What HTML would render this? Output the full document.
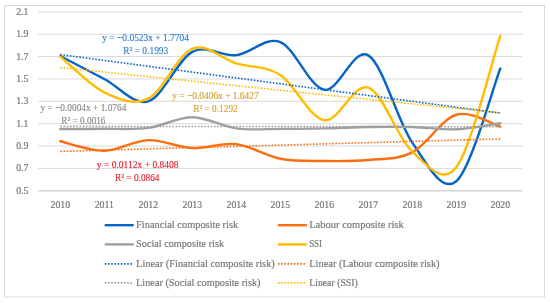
<!DOCTYPE html>
<html><head><meta charset="utf-8"><style>
html,body{margin:0;padding:0;background:#fff;}
body{width:550px;height:303px;overflow:hidden;}
svg{display:block;will-change:transform;}
text{opacity:0.999;}
text{font-family:"Liberation Serif", serif;}
.ax{font-size:9.8px;fill:#777777;stroke:#777777;stroke-width:0.2px;}
.tl{font-size:11px;}
.lg{font-size:10.6px;fill:#777777;stroke:#777777;stroke-width:0.2px;}
</style></head><body>
<svg width="550" height="303" viewBox="0 0 550 303">
<rect x="4.5" y="5.5" width="540" height="291.5" fill="#fff" stroke="#D9D9D9" stroke-width="1"/>
<line x1="38.30" y1="168.39" x2="522.30" y2="168.39" stroke="#D9D9D9" stroke-width="1"/>
<line x1="38.30" y1="146.03" x2="522.30" y2="146.03" stroke="#D9D9D9" stroke-width="1"/>
<line x1="38.30" y1="123.67" x2="522.30" y2="123.67" stroke="#D9D9D9" stroke-width="1"/>
<line x1="38.30" y1="101.31" x2="522.30" y2="101.31" stroke="#D9D9D9" stroke-width="1"/>
<line x1="38.30" y1="78.95" x2="522.30" y2="78.95" stroke="#D9D9D9" stroke-width="1"/>
<line x1="38.30" y1="56.59" x2="522.30" y2="56.59" stroke="#D9D9D9" stroke-width="1"/>
<line x1="38.30" y1="34.23" x2="522.30" y2="34.23" stroke="#D9D9D9" stroke-width="1"/>
<line x1="38.30" y1="11.87" x2="522.30" y2="11.87" stroke="#D9D9D9" stroke-width="1"/>
<line x1="38.30" y1="190.75" x2="522.30" y2="190.75" stroke="#D6D6D6" stroke-width="1.5"/>
<text x="28.4" y="193.85" text-anchor="end" class="ax">0.5</text>
<text x="28.4" y="171.49" text-anchor="end" class="ax">0.7</text>
<text x="28.4" y="149.13" text-anchor="end" class="ax">0.9</text>
<text x="28.4" y="126.77" text-anchor="end" class="ax">1.1</text>
<text x="28.4" y="104.41" text-anchor="end" class="ax">1.3</text>
<text x="28.4" y="82.05" text-anchor="end" class="ax">1.5</text>
<text x="28.4" y="59.69" text-anchor="end" class="ax">1.7</text>
<text x="28.4" y="37.33" text-anchor="end" class="ax">1.9</text>
<text x="28.4" y="14.97" text-anchor="end" class="ax">2.1</text>
<text x="60.30" y="207.8" text-anchor="middle" class="ax">2010</text>
<text x="104.30" y="207.8" text-anchor="middle" class="ax">2011</text>
<text x="148.30" y="207.8" text-anchor="middle" class="ax">2012</text>
<text x="192.30" y="207.8" text-anchor="middle" class="ax">2013</text>
<text x="236.30" y="207.8" text-anchor="middle" class="ax">2014</text>
<text x="280.30" y="207.8" text-anchor="middle" class="ax">2015</text>
<text x="324.30" y="207.8" text-anchor="middle" class="ax">2016</text>
<text x="368.30" y="207.8" text-anchor="middle" class="ax">2017</text>
<text x="412.30" y="207.8" text-anchor="middle" class="ax">2018</text>
<text x="456.30" y="207.8" text-anchor="middle" class="ax">2019</text>
<text x="500.30" y="207.8" text-anchor="middle" class="ax">2020</text>
<path d="M60.30,56.03 C67.63,59.85 89.63,71.40 104.30,78.95 C118.97,86.50 133.63,105.82 148.30,101.31 C162.97,96.80 177.63,59.59 192.30,51.89 C206.97,44.20 221.63,56.78 236.30,55.14 C250.97,53.50 265.63,36.28 280.30,42.06 C294.97,47.83 309.63,87.58 324.30,89.79 C338.97,92.01 353.63,46.55 368.30,55.36 C382.97,64.17 397.63,121.69 412.30,142.68 C426.97,163.66 441.63,193.60 456.30,181.25 C470.97,168.89 492.97,87.34 500.30,68.55" fill="none" stroke="#0865C5" stroke-width="2.4" stroke-linejoin="round" stroke-linecap="round"/>
<path d="M60.30,141.22 C67.63,142.81 89.63,150.91 104.30,150.73 C118.97,150.54 133.63,140.55 148.30,140.10 C162.97,139.66 177.63,147.37 192.30,148.04 C206.97,148.71 221.63,142.34 236.30,144.13 C250.97,145.92 265.63,155.96 280.30,158.78 C294.97,161.59 309.63,160.81 324.30,161.01 C338.97,161.22 353.63,161.44 368.30,160.00 C382.97,158.57 397.63,159.95 412.30,152.40 C426.97,144.86 441.63,119.03 456.30,114.73 C470.97,110.42 492.97,124.60 500.30,126.58" fill="none" stroke="#FA6E10" stroke-width="2.4" stroke-linejoin="round" stroke-linecap="round"/>
<path d="M60.30,129.04 C67.63,129.00 89.63,129.00 104.30,128.81 C118.97,128.63 133.63,129.86 148.30,127.92 C162.97,125.98 177.63,117.11 192.30,117.19 C206.97,117.26 221.63,126.41 236.30,128.37 C250.97,130.32 265.63,128.92 280.30,128.92 C294.97,128.92 309.63,128.68 324.30,128.37 C338.97,128.05 353.63,127.25 368.30,127.02 C382.97,126.80 397.63,126.65 412.30,127.02 C426.97,127.40 441.63,129.89 456.30,129.26 C470.97,128.63 492.97,124.23 500.30,123.22" fill="none" stroke="#9F9F9F" stroke-width="2.4" stroke-linejoin="round" stroke-linecap="round"/>
<path d="M60.30,56.59 C67.63,62.55 89.63,85.38 104.30,92.37 C118.97,99.35 133.63,105.78 148.30,98.52 C162.97,91.25 177.63,54.63 192.30,48.76 C206.97,42.89 221.63,58.92 236.30,63.30 C250.97,67.68 265.63,65.55 280.30,75.04 C294.97,84.52 309.63,118.10 324.30,120.20 C338.97,122.31 353.63,82.43 368.30,87.67 C382.97,92.91 397.63,138.35 412.30,151.62 C426.97,164.89 442.17,185.86 456.30,167.27 C470.97,147.99 492.97,57.80 500.30,35.91" fill="none" stroke="#FFBC00" stroke-width="2.4" stroke-linejoin="round" stroke-linecap="round"/>
<line x1="60.30" y1="54.57" x2="500.30" y2="113.04" stroke="#0865C5" stroke-width="1.6" stroke-dasharray="1.6 1.6"/>
<line x1="60.30" y1="151.40" x2="500.30" y2="138.87" stroke="#FA6E10" stroke-width="1.6" stroke-dasharray="1.6 1.6"/>
<line x1="60.30" y1="126.35" x2="500.30" y2="126.80" stroke="#9F9F9F" stroke-width="1.6" stroke-dasharray="1.6 1.6"/>
<line x1="60.30" y1="67.54" x2="500.30" y2="112.93" stroke="#FFBC00" stroke-width="1.6" stroke-dasharray="1.6 1.6"/>
<text x="102.30" y="41.00" fill="#2A7DCD" stroke="#2A7DCD" stroke-width="0.15" class="tl" textLength="86.7" lengthAdjust="spacingAndGlyphs">y = &#8722;0.0523x + 1.7704</text>
<text x="123.20" y="53.80" fill="#2A7DCD" stroke="#2A7DCD" stroke-width="0.15" class="tl" textLength="45.1" lengthAdjust="spacingAndGlyphs">R&#178; = 0.1993</text>
<text x="172.30" y="99.40" fill="#D4A02C" stroke="#D4A02C" stroke-width="0.15" class="tl" textLength="86.3" lengthAdjust="spacingAndGlyphs">y = &#8722;0.0406x + 1.6427</text>
<text x="193.20" y="112.30" fill="#D4A02C" stroke="#D4A02C" stroke-width="0.15" class="tl" textLength="44.5" lengthAdjust="spacingAndGlyphs">R&#178; = 0.1292</text>
<text x="40.40" y="110.90" fill="#8A8A8A" stroke="#8A8A8A" stroke-width="0.15" class="tl" textLength="86.0" lengthAdjust="spacingAndGlyphs">y = &#8722;0.0004x + 1.0764</text>
<text x="61.30" y="124.00" fill="#8A8A8A" stroke="#8A8A8A" stroke-width="0.15" class="tl" textLength="44.2" lengthAdjust="spacingAndGlyphs">R&#178; = 0.0016</text>
<text x="96.80" y="167.70" fill="#E8212A" stroke="#E8212A" stroke-width="0.15" class="tl" textLength="81.8" lengthAdjust="spacingAndGlyphs">y = 0.0112x + 0.8408</text>
<text x="115.00" y="180.70" fill="#E8212A" stroke="#E8212A" stroke-width="0.15" class="tl" textLength="44.5" lengthAdjust="spacingAndGlyphs">R&#178; = 0.0864</text>
<line x1="104.70" y1="225.20" x2="133.70" y2="225.20" stroke="#0865C5" stroke-width="2.4"/>
<text x="136.10" y="228.25" class="lg" textLength="102.1" lengthAdjust="spacingAndGlyphs">Financial composite risk</text>
<line x1="277.80" y1="225.20" x2="306.80" y2="225.20" stroke="#FA6E10" stroke-width="2.4"/>
<text x="309.20" y="228.25" class="lg" textLength="94.5" lengthAdjust="spacingAndGlyphs">Labour composite risk</text>
<line x1="104.70" y1="244.40" x2="133.70" y2="244.40" stroke="#9F9F9F" stroke-width="2.4"/>
<text x="136.10" y="247.45" class="lg" textLength="87.9" lengthAdjust="spacingAndGlyphs">Social composite risk</text>
<line x1="277.80" y1="244.40" x2="306.80" y2="244.40" stroke="#FFBC00" stroke-width="2.4"/>
<text x="309.20" y="247.45" class="lg" textLength="12.8" lengthAdjust="spacingAndGlyphs">SSI</text>
<line x1="104.80" y1="263.90" x2="132.10" y2="263.90" stroke="#0865C5" stroke-width="1.6" stroke-dasharray="1.6 1.6"/>
<text x="136.10" y="266.95" class="lg" textLength="138.7" lengthAdjust="spacingAndGlyphs">Linear (Financial composite risk)</text>
<line x1="277.90" y1="263.90" x2="305.20" y2="263.90" stroke="#FA6E10" stroke-width="1.6" stroke-dasharray="1.6 1.6"/>
<text x="309.20" y="266.95" class="lg" textLength="130.4" lengthAdjust="spacingAndGlyphs">Linear (Labour composite risk)</text>
<line x1="104.80" y1="282.90" x2="132.10" y2="282.90" stroke="#9F9F9F" stroke-width="1.6" stroke-dasharray="1.6 1.6"/>
<text x="136.10" y="285.95" class="lg" textLength="124.4" lengthAdjust="spacingAndGlyphs">Linear (Social composite risk)</text>
<line x1="277.90" y1="282.90" x2="305.20" y2="282.90" stroke="#FFBC00" stroke-width="1.6" stroke-dasharray="1.6 1.6"/>
<text x="309.20" y="285.95" class="lg" textLength="48.6" lengthAdjust="spacingAndGlyphs">Linear (SSI)</text>
</svg>
</body></html>
